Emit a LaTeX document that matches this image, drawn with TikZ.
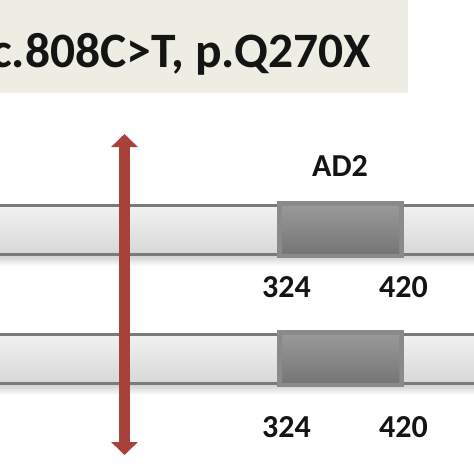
\documentclass[tikz,border=0pt]{standalone}
\usepackage{fontspec}
\setmainfont{Carlito}
\usetikzlibrary{arrows.meta}
\definecolor{boxbg}{HTML}{EDEDE4}
\definecolor{arrowred}{HTML}{A8413A}
\tikzset{
  lbl/.style={font=\bfseries\fontsize{32}{36}\selectfont, text=black!92, inner sep=0pt, anchor=base},
  bartop/.style={top color=black!5, bottom color=black!16},
  barrule/.style={draw=black!52, line width=3pt},
  domframe/.style={fill=black!46},
  domcoreh/.style={left color=black!52, middle color=black!32, right color=black!52},
  domcorev/.style={top color=black!28, bottom color=black!55, opacity=0.5},
}
\begin{document}
\begin{tikzpicture}[x=1pt,y=-1pt]
\useasboundingbox (0,0) rectangle (474,474);
\fill[white] (0,0) rectangle (474,474);
% title box
\fill[boxbg] (0,0) rectangle (408,93);
\node[font=\bfseries\fontsize{49.5}{54}\selectfont, inner sep=0pt, anchor=base west, text=black!92] (title) at (-9,67) {c.808C>T, p.Q270X};
% bars
\foreach \y in {204,333}{
  \shade[top color=black!18, bottom color=white] (0,\y+52) rectangle (474,\y+62);
  \shade[bartop] (0,\y) rectangle (474,\y+52);
  \draw[barrule] (0,\y+1.5) -- (474,\y+1.5);
  \draw[barrule] (0,\y+50.5) -- (474,\y+50.5);
  \fill[domframe] (277,\y-3) rectangle (404,\y+54);
  \shade[domcoreh] (282,\y+2) rectangle (399,\y+49);
  \shade[domcorev] (282,\y+2) rectangle (399,\y+49);
}
% labels
\node[lbl] (ad) at (340,176) {AD2};
\node[lbl] (a1) at (286.5,297) {324};
\node[lbl] (b1) at (403.5,297) {420};
\node[lbl] (a2) at (286.5,437) {324};
\node[lbl] (b2) at (403.5,437) {420};
% arrow
\coordinate (atop) at (124.5,134);
\coordinate (abot) at (124.5,455);
\draw[line width=11pt, arrowred, {Triangle[width=26pt,length=13pt]}-{Triangle[width=26pt,length=13pt]}] (atop) -- (abot);
\end{tikzpicture}
\end{document}
